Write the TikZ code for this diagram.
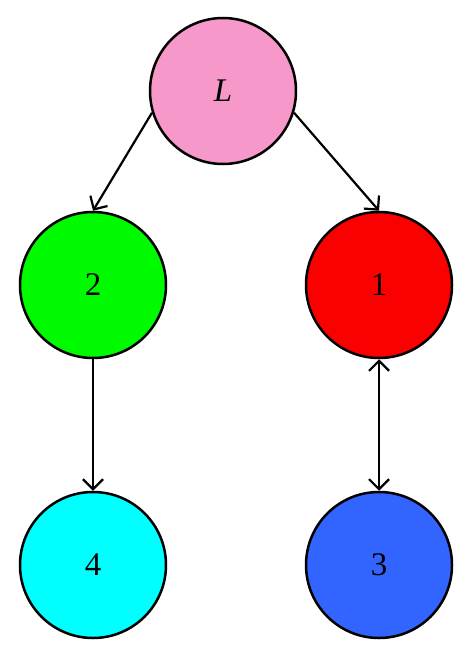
\documentclass[tikz,border=0pt]{standalone}
\usepackage{fontspec}
\setmainfont{Liberation Serif}
\usetikzlibrary{arrows.meta}
\definecolor{cpink}{RGB}{247,152,202}
\definecolor{cgreen}{RGB}{0,250,0}
\definecolor{cred}{RGB}{250,0,0}
\definecolor{ccyan}{RGB}{0,255,255}
\definecolor{cblue}{RGB}{50,100,255}
\tikzset{
  vert/.style={circle,draw=black,line width=2.5pt,minimum size=146pt,inner sep=0pt,font=\fontsize{33pt}{35pt}\selectfont},
  conn/.style={line width=2.2pt,-{Straight Barb[length=10pt,width=20pt,line width=2.2pt]}},
  conn2/.style={line width=2.2pt,{Straight Barb[length=10pt,width=20pt,line width=2.2pt]}-{Straight Barb[length=10pt,width=20pt,line width=2.2pt]}}
}
\begin{document}
\begin{tikzpicture}[x=1pt,y=-1pt]
\useasboundingbox (0,0) rectangle (474,658);
\node[vert,fill=cpink] (L) at (223,91) {\textit{L}};
\node[vert,fill=cgreen] (n2) at (93,285) {2};
\node[vert,fill=cred] (n1) at (379,285) {1};
\node[vert,fill=ccyan] (n4) at (93,565) {4};
\node[vert,fill=cblue] (n3) at (379,565) {3};
\draw[conn] (L.197) -- (n2.north);
\draw[conn] (L.-17) -- (n1.north);
\draw[conn] (n2.south) -- (n4.north);
\draw[conn2] (n1.south) -- (n3.north);
\end{tikzpicture}
\end{document}
